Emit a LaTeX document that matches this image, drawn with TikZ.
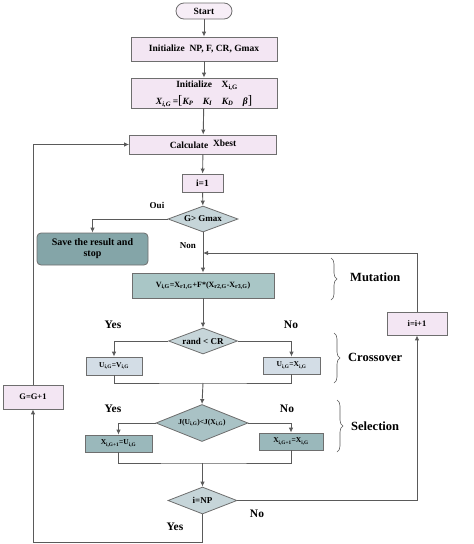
\documentclass[tikz,border=0pt]{standalone}
\usepackage{fontspec}
\setmainfont{Liberation Serif}
\usetikzlibrary{shapes.geometric,arrows.meta,decorations.pathreplacing}
\definecolor{pinkfill}{HTML}{F3E6F3}
\definecolor{startfill}{HTML}{F7EEF7}
\definecolor{mutfill}{HTML}{A9C6C6}
\definecolor{savefill}{HTML}{84A5A8}
\definecolor{crossfill}{HTML}{D3DDE6}
\definecolor{selfill}{HTML}{9AB8BB}
\definecolor{diafill}{HTML}{C6D5D9}
\definecolor{diadark}{HTML}{A9C2C5}
\definecolor{bordergray}{HTML}{6E6E6E}
\definecolor{linegray}{HTML}{5A5A5A}
\begin{document}
\begin{tikzpicture}[x=1pt,y=-1pt,
  box/.style={draw=bordergray, line width=0.8pt, inner sep=0pt, align=center,
    font=\bfseries\fontsize{9.5}{11}\selectfont},
  smallbox/.style={box, font=\bfseries\fontsize{7.5}{9}\selectfont},
  dia/.style={draw=bordergray, line width=0.8pt, shape=diamond, aspect=2.6, inner sep=0pt,
    font=\bfseries\fontsize{9}{10}\selectfont, fill=diafill},
  line/.style={draw=linegray, line width=0.9pt},
  arr/.style={line, -{Latex[length=5pt,width=4.5pt]}},
  yn/.style={font=\bfseries\fontsize{11.5}{13}\selectfont, inner sep=0pt},
  ou/.style={font=\bfseries\fontsize{9}{10}\selectfont, inner sep=0pt},
  sect/.style={font=\bfseries\fontsize{12.5}{14}\selectfont, inner sep=0pt},
  br/.style={draw=linegray, line width=0.6pt, decorate, decoration={brace, amplitude=6pt}}
]
\useasboundingbox (0,0) rectangle (474,544);

% nodes
\node[box, fill=startfill, rounded corners=8pt, minimum width=56pt, minimum height=16pt] (start) at (204,11) {Start};
\node[box, fill=pinkfill, minimum width=146pt, minimum height=24pt] (init1) at (204,49) {Initialize\ \ NP, F, CR, Gmax};
\node[box, fill=pinkfill, minimum width=146pt, minimum height=30pt] (init2) at (204,93) {};
\node[font=\bfseries\fontsize{9.5}{11}\selectfont, inner sep=0pt] (init2a) at (207,85.5) {Initialize\quad X\textsubscript{i,G}};
\node[font=\bfseries\fontsize{9.5}{11}\selectfont, inner sep=0pt] (init2b) at (204,101.5)
  {\textit{X}\textsubscript{\textit{i,G}}\,={\fontsize{13}{13}\selectfont\mdseries[}\textit{K\textsubscript{P}}\quad \textit{K\textsubscript{I}}\quad \textit{K\textsubscript{D}}\quad \textit{β}{\fontsize{13}{13}\selectfont\mdseries]}};
\node[box, fill=pinkfill, minimum width=147pt, minimum height=19pt] (calc) at (203,144.5) {Calculate\ \ \raisebox{1.5pt}{Xbest}};
\node[box, fill=pinkfill, minimum width=41pt, minimum height=18pt] (i1) at (202.5,183) {i=1};
\node[dia, minimum width=70pt, minimum height=26pt] (d1) at (203,219) {G> Gmax};
\node[box, fill=savefill, rounded corners=4pt, minimum width=111pt, minimum height=32pt,
  font=\bfseries\fontsize{10}{11}\selectfont] (save) at (92.5,249) {Save the result and\\stop};
\node[smallbox, fill=mutfill, minimum width=142pt, minimum height=25pt, font=\bfseries\fontsize{8}{9}\selectfont] (mut) at (203,285.5)
  {V\textsubscript{i,G}=X\textsubscript{r1,G}+F*(X\textsubscript{r2,G}-X\textsubscript{r3,G})};
\node[dia, minimum width=69pt, minimum height=26pt] (d2) at (203,341) {rand < CR};
\node[smallbox, fill=crossfill, minimum width=56pt, minimum height=18pt] (uv) at (114,366) {U\textsubscript{i,G}=V\textsubscript{i,G}};
\node[smallbox, fill=crossfill, minimum width=57pt, minimum height=17pt] (ux) at (291.5,365.5) {U\textsubscript{i,G}=X\textsubscript{i,G}};
\node[box, fill=pinkfill, minimum width=60pt, minimum height=23pt, font=\bfseries\fontsize{8.5}{10}\selectfont] (i2) at (417,323.5) {i=i+1};
\node[box, fill=pinkfill, minimum width=60pt, minimum height=24pt, font=\bfseries\fontsize{8.5}{10}\selectfont] (gg) at (33,397) {G=G+1};
\node[dia, fill=diadark, minimum width=92pt, minimum height=37pt, font=\bfseries\fontsize{7.5}{9}\selectfont] (d3) at (202,423)
  {J(U\textsubscript{i,G})<J(X\textsubscript{i,G})};
\node[smallbox, fill=selfill, minimum width=67pt, minimum height=17pt] (xu) at (118.5,443.5) {X\textsubscript{i,G+1}=U\textsubscript{i,G}};
\node[smallbox, fill=selfill, minimum width=64pt, minimum height=17pt] (xx) at (291,441.5) {X\textsubscript{i,G+1}=X\textsubscript{i,G}};
\node[dia, minimum width=69pt, minimum height=27pt] (d4) at (202.5,500.5) {i=NP};

% helper coordinates
\coordinate (j1) at (203,253);
\coordinate (m1) at (203,383);
\coordinate (m2) at (202.5,463);
\coordinate (bot) at (202.5,542);

% connectors
\draw[arr] (start) -- (init1);
\draw[arr] (init1) -- (init2);
\draw[arr] (init2) -- (calc);
\draw[arr] (calc) -- (i1);
\draw[arr] (i1) -- (d1);
\draw[arr] (d1.west) -| (save.north);
\draw[arr] (d1.south) -- (mut.north);
\draw[arr] (i2.north) |- (j1);
\draw[arr] (mut) -- (d2);
\draw[arr] (d2.west) -| (uv.north);
\draw[arr] (d2.east) -| (ux.north);
\draw[line] (uv.south) |- (m1) -| (ux.south);
\draw[arr] (m1) -- (d3.north);
\draw[arr] (d3.west) -| (xu.north);
\draw[arr] (d3.east) -| (xx.north);
\draw[line] (xu.south) |- (m2) -| (xx.south);
\draw[arr] (m2) -- (d4.north);
\draw[arr] (d4.east) -| (i2.south);
\draw[arr] (d4.south) -- (bot) -| (gg.south);
\draw[arr] (gg.north) |- (calc.west);

% labels
\node[ou] at (157,205) {Oui};
\node[ou] at (188,246) {Non};
\node[yn] at (113,325) {Yes};
\node[yn] at (291,325) {No};
\node[yn] at (113,409) {Yes};
\node[yn] at (287,409) {No};
\node[yn] at (257,514) {No};
\node[yn] at (175,527) {Yes};

% braces
\draw[br] (331,258) -- (331,300);
\node[sect, anchor=west] at (350,277) {Mutation};
\draw[br] (334,333) -- (334,383);
\node[sect, anchor=west] at (348,357) {Crossover};
\draw[br] (337,400) -- (337,452);
\node[sect, anchor=west] at (351,426) {Selection};
\end{tikzpicture}
\end{document}
